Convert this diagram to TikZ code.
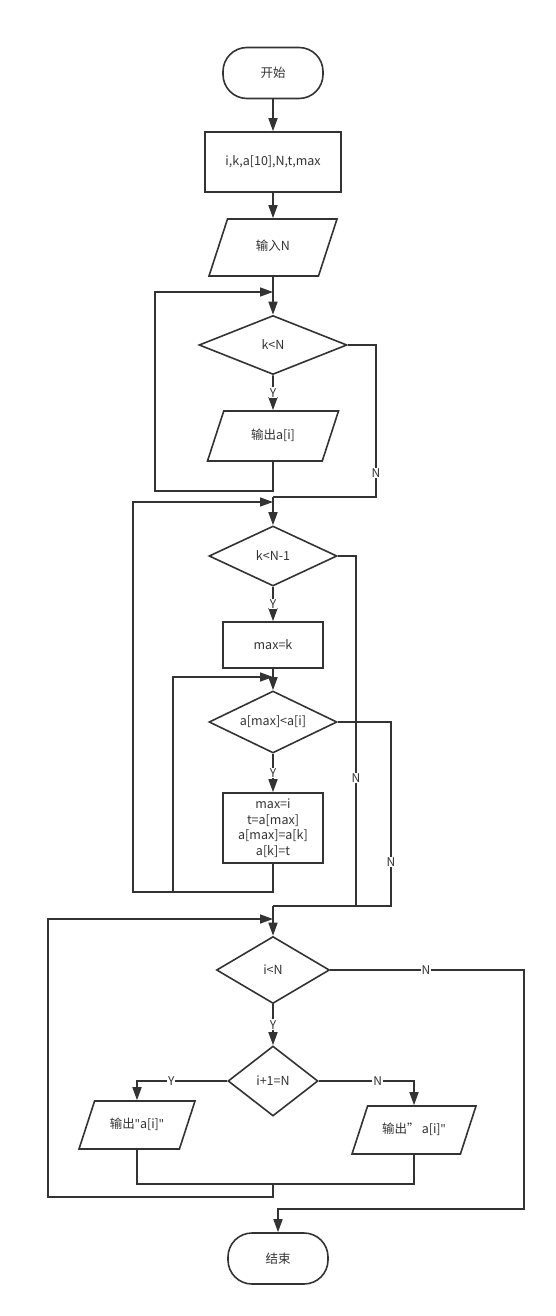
\documentclass[tikz,border=0pt]{standalone}
\usepackage{fontspec}
\setmainfont{Noto Sans CJK SC}
\newfontfamily\latinfont{Noto Sans}
\usetikzlibrary{shapes.geometric, arrows.meta, positioning}
\definecolor{linegray}{RGB}{51,51,51}
\newcommand{\dq}{{\latinfont"}}
\tikzset{
  basebox/.style={
    draw=linegray, line width=1.6pt, text=linegray, align=center, inner sep=0pt,
    font=\fontsize{12.5}{15.5}\selectfont
  },
  termbox/.style={basebox, rectangle, rounded corners=24pt, minimum width=100pt, minimum height=51pt},
  procbox/.style={basebox, rectangle, minimum width=100pt},
  iobox/.style={basebox, trapezium, trapezium left angle=72, trapezium right angle=108,
    trapezium stretches body, text height=9pt, text depth=3pt},
  decbox/.style={basebox, diamond},
  line/.style={draw=linegray, line width=1.6pt},
  arrow/.style={line, -{Triangle[length=13pt, width=9pt]}},
  lbl/.style={fill=white, text=linegray, inner sep=1pt, font=\fontsize{12}{14}\selectfont}
}
\begin{document}
\begin{tikzpicture}[x=1pt, y=-1pt]
  \useasboundingbox (0,0) rectangle (556,1316);

  % main column
  \node[termbox] (start) at (273,73) {开始};
  \node[procbox, minimum width=136pt, minimum height=60pt] (vars) at (273,162) {i,k,a[10],N,t,max};
  \node[iobox, minimum width=128pt, inner ysep=22.5pt] (inN) at (273,247.5) {输入N};
  \node[decbox, aspect=2.5, minimum width=148pt, minimum height=59pt] (kN) at (273,345) {k<N};
  \node[iobox, minimum width=131pt, inner ysep=19pt] (outA) at (273,436) {输出a[i]};
  \node[decbox, aspect=2.13, minimum width=128pt, minimum height=60pt] (kN1) at (273,556) {k<N-1};
  \node[procbox, minimum height=46pt] (maxk) at (273,645) {max=k};
  \node[decbox, aspect=2.06, minimum width=128pt, minimum height=62pt] (cmp) at (273,722) {a[max]<a[i]};
  \node[procbox, minimum height=70pt] (swap) at (273,828) {max=i\\t=a[max]\\a[max]=a[k]\\a[k]=t};
  \node[decbox, aspect=1.69, minimum width=113pt, minimum height=67pt] (iN) at (273,970) {i<N};
  \node[decbox, aspect=1.29, minimum width=90pt, minimum height=70pt] (last) at (273,1081) {i+1=N};
  \node[iobox, minimum width=116pt, inner ysep=18pt] (outL) at (137,1125) {输出\dq a[i]\dq};
  \node[iobox, minimum width=124pt, inner ysep=18pt] (outR) at (414,1130) {输出”\,a[i]\dq};
  \node[termbox] (stop) at (278,1258.5) {结束};

  % junction points
  \coordinate (jA) at (273,292);
  \coordinate (lpA) at (155,491);
  \coordinate (nA) at (376,497);
  \coordinate (jB) at (273,497);
  \coordinate (jC) at (273,502);
  \coordinate (jD) at (273,677);
  \coordinate (lpB) at (133,892);
  \coordinate (lpC) at (173,892);
  \coordinate (nB) at (356,906);
  \coordinate (nC) at (391,906);
  \coordinate (jE) at (273,906);
  \coordinate (jF) at (273,919);
  \coordinate (mg) at (273,1184);
  \coordinate (lpD) at (48,1197);
  \coordinate (nD) at (524,1209);

  \draw[arrow] (start.south) -- (vars.north);
  \draw[arrow] (vars.south) -- (inN.north);
  \draw[arrow] (inN.south) -- (kN.north);
  \draw[arrow] (kN.south) -- node[lbl] (yA) {Y} (outA.north);
  \draw[arrow] (outA.south) |- (lpA) |- (jA);
  \draw[line] (kN.east) -| (nA) -- (jB);
  \draw[arrow] (jB) -- (kN1.north);
  \node[lbl] (nlA) at (376,473) {N};

  \draw[arrow] (kN1.south) -- node[lbl] (yB) {Y} (maxk.north);
  \draw[arrow] (maxk.south) -- (cmp.north);
  \draw[arrow] (cmp.south) -- node[lbl] (yC) {Y} (swap.north);
  \draw[arrow] (swap.south) |- (lpB) |- (jC);
  \draw[arrow] (lpC) |- (jD);
  \draw[line] (kN1.east) -| (nB);
  \draw[line] (cmp.east) -| (nC) -- (jE);
  \node[lbl] (nlB) at (356,778) {N};
  \node[lbl] (nlC) at (391,862) {N};

  \draw[arrow] (jE) -- (iN.north);
  \draw[arrow] (iN.south) -- node[lbl] (yD) {Y} (last.north);
  \draw[arrow] (last.west) -| node[lbl, pos=0.31] (yE) {Y} (outL.north);
  \draw[arrow] (last.east) -| node[lbl, pos=0.31] (nlE) {N} (outR.north);
  \draw[line] (outL.south) |- (mg) -| (outR.south);
  \draw[arrow] (mg) |- (lpD) |- (jF);
  \draw[arrow] (iN.east) -| (nD) -| (stop.north);
  \node[lbl] (nlD) at (426,970) {N};
\end{tikzpicture}
\end{document}
